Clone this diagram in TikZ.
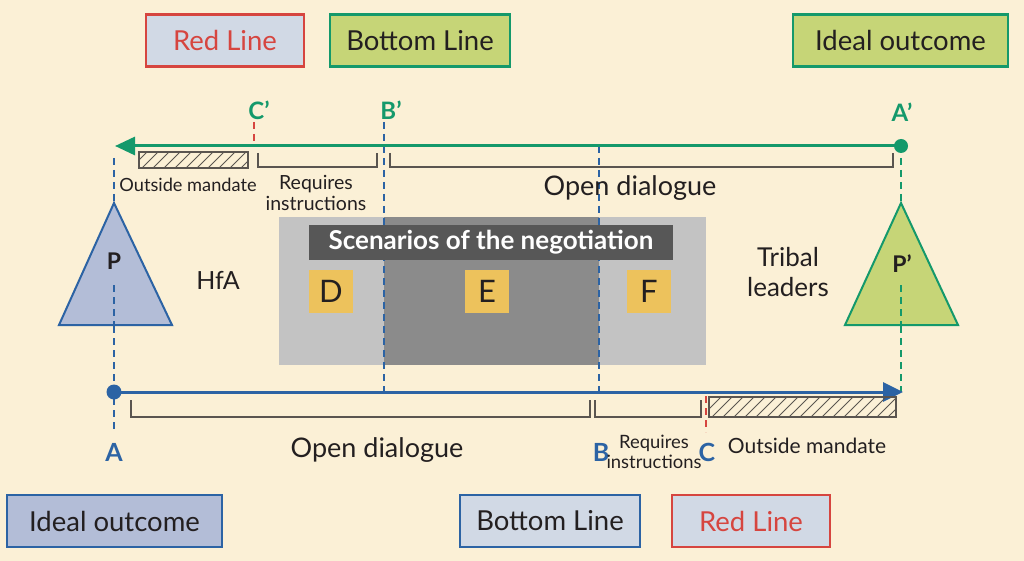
\documentclass[tikz,border=0pt]{standalone}
\usepackage{fontspec}
\setmainfont{Lato}
\usetikzlibrary{arrows.meta}
\definecolor{bg}{HTML}{FBF0D6}
\definecolor{gline}{HTML}{14996B}
\definecolor{bline}{HTML}{2C63A4}
\definecolor{rline}{HTML}{D6453F}
\definecolor{boxblue}{HTML}{D1D9E5}
\definecolor{boxblueD}{HTML}{B3BDD7}
\definecolor{boxgreen}{HTML}{C6D577}
\definecolor{grayL}{HTML}{C3C3C3}
\definecolor{grayM}{HTML}{8B8B8B}
\definecolor{grayD}{HTML}{575757}
\definecolor{yel}{HTML}{EDC25C}
\definecolor{txt}{HTML}{231F20}
\definecolor{brk}{HTML}{5A5550}
\newcommand{\fs}[1]{\fontsize{#1}{#1}\selectfont}
\tikzset{
  legend/.style={draw, line width=2.5pt, minimum height=52pt, inner sep=0pt, text=txt, font=\fs{27.5}},
  dashv/.style={line width=2pt, dash pattern=on 7pt off 5pt},
  mainline/.style={line width=3pt},
  bracket/.style={draw=brk, line width=1.6pt},
  hatchbox/.style={draw=brk, line width=1.6pt},
  lbl/.style={text=txt, inner sep=0pt, align=center},
  ptlbl/.style={inner sep=0pt, font=\bfseries\fs{24}},
  letterbox/.style={fill=yel, minimum width=44pt, minimum height=43pt, inner sep=0pt, text=txt, font=\fs{31}}
}
\begin{document}
\begin{tikzpicture}[x=1pt,y=-1pt]
\fill[bg] (0,0) rectangle (1024,561);
\useasboundingbox (0,0) rectangle (1024,561);

% legend boxes
\node[legend, fill=boxblue, draw=rline, text=rline, minimum width=158pt] (redTop) at (225,40.5) {Red Line};
\node[legend, fill=boxgreen, draw=gline, minimum width=180pt] (botTop) at (420,40.5) {Bottom Line};
\node[legend, fill=boxgreen, draw=gline, minimum width=215pt] (idealTop) at (900.5,40.5) {Ideal outcome};
\node[legend, fill=boxblueD, draw=bline, minimum width=215pt] (idealBot) at (114.5,521) {Ideal outcome};
\node[legend, fill=boxblue, draw=bline, minimum width=180pt] (botBot) at (550,521) {Bottom Line};
\node[legend, fill=boxblue, draw=rline, text=rline, minimum width=158pt] (redBot) at (751,521) {Red Line};

% scenario panel
\node[fill=grayL, minimum width=427pt, minimum height=148pt, inner sep=0pt] (panel) at (492.5,291) {};
\node[fill=grayM, minimum width=215pt, minimum height=148pt, inner sep=0pt] (mid) at (491.5,291) {};

% coordinates
\coordinate (Atop) at (114,158);
\coordinate (Adot) at (114,392);
\coordinate (Abot) at (114,432);
\coordinate (Aptop) at (901,146);
\coordinate (Apbot) at (901,392);
\coordinate (Arrtip) at (903,392);
\coordinate (TopTip) at (115,146);
\coordinate (Bptop) at (384,122);
\coordinate (Bpbot) at (384,392);
\coordinate (Btop) at (599,146);
\coordinate (Bbot) at (599,392);
\coordinate (Cptop) at (254,122);
\coordinate (Cpbot) at (254,146);
\coordinate (Ctop) at (706,396);
\coordinate (Cbot) at (706,432);

% vertical dashed lines
\draw[dashv, bline] (Bptop) -- (Bpbot);
\draw[dashv, bline] (Btop) -- (Bbot);
\draw[dashv, rline] (Cptop) -- (Cpbot);
\draw[dashv, rline] (Ctop) -- (Cbot);
\draw[dashv, bline] (Atop) -- (Abot);
\draw[dashv, gline] (Aptop) -- (Apbot);

% title bar and letters
\node[fill=grayD, minimum width=364pt, minimum height=35pt, inner sep=0pt, text=white, font=\bfseries\fs{26}] (title) at (491,242.5) {Scenarios of the negotiation};
\node[letterbox] (D) at (331,291.5) {D};
\node[letterbox] (E) at (487,291.5) {E};
\node[letterbox] (F) at (649,291.5) {F};

% triangles
\draw[bline, fill=boxblueD, line width=2pt, line join=miter] (114,203) -- (172,325) -- (59,325) -- cycle;
\draw[gline, fill=boxgreen, line width=2pt, line join=miter] (901,203) -- (958,325) -- (845,325) -- cycle;
\coordinate (Pin1) at (114,285);
\coordinate (Pin2) at (114,325);
\coordinate (Ppin1) at (901,285);
\coordinate (Ppin2) at (901,325);
\draw[dashv, bline] (Pin1) -- (Pin2);
\draw[dashv, gline] (Ppin1) -- (Ppin2);
\node[text=txt, font=\bfseries\fs{23}, inner sep=0pt] (P) at (114,261) {P};
\node[text=txt, font=\bfseries\fs{23}, inner sep=0pt] (Pp) at (902,264) {P’};

% main lines
\draw[gline, mainline, -{Triangle[length=20pt,width=18pt]}] (Aptop) -- (TopTip);
\fill[gline] (Aptop) circle (7pt);
\draw[bline, mainline, -{Triangle[length=20pt,width=19pt]}] (Adot) -- (Arrtip);
\fill[bline] (Adot) circle (7.5pt);

% hatched boxes
\begin{scope}
\clip (139,152) rectangle (248,168);
\foreach \x in {120,131,...,260} \draw[brk, line width=1pt] (\x,168) -- (\x+16,152);
\end{scope}
\draw[hatchbox] (139,152) rectangle (248,168);
\begin{scope}
\clip (709,397) rectangle (896,417);
\foreach \x in {690,701,...,910} \draw[brk, line width=1pt] (\x,417) -- (\x+20,397);
\end{scope}
\draw[hatchbox] (709,397) rectangle (896,417);

% brackets
\draw[bracket] (258,153) -- (258,167) -- (377,167) -- (377,153);
\draw[bracket] (390,153) -- (390,167) -- (893,167) -- (893,153);
\draw[bracket] (131,400) -- (131,417) -- (590,417) -- (590,400);
\draw[bracket] (595,400) -- (595,417) -- (701,417) -- (701,400);

% point labels
\node[ptlbl, text=gline] (Cp) at (259,110) {C’};
\node[ptlbl, text=gline] (Bp) at (391,110) {B’};
\node[ptlbl, text=gline] (Ap) at (902,112) {A’};
\node[ptlbl, text=bline, font=\bfseries\fs{25}] (A) at (114,452) {A};
\node[ptlbl, text=bline, font=\bfseries\fs{25}] (B) at (601,452) {B};
\node[ptlbl, text=bline, font=\bfseries\fs{25}] (C) at (707,452) {C};

% texts
\node[lbl, font=\fs{18.2}] (om1) at (188,185) {Outside mandate};
\node[lbl, font=\fs{19.5}, text depth=0pt] (ri1) at (316,193) {Requires\\[2pt]instructions};
\node[lbl, font=\fs{27}] (od1) at (630,188) {Open dialogue};
\node[lbl, font=\fs{25}] (hfa) at (218,280) {HfA};
\node[lbl, font=\fs{26}] (tribal) at (788,272) {Tribal\\[4pt]leaders};
\node[lbl, font=\fs{27}] (od2) at (377,450) {Open dialogue};
\node[lbl, font=\fs{18.4}] (ri2) at (654,452) {Requires\\[2pt]instructions};
\node[lbl, font=\fs{21}] (om2) at (807,446) {Outside mandate};
\end{tikzpicture}
\end{document}
